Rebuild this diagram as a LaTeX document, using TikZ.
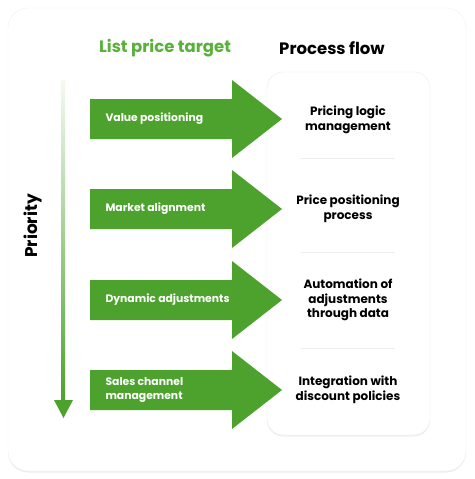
\documentclass[tikz,border=0pt]{standalone}
\usepackage{fontspec}
\setmainfont{Poppins}
\usetikzlibrary{shadows}

\definecolor{leafgreen}{HTML}{4DA22E}
\definecolor{titlegreen}{HTML}{5AB13A}
\definecolor{rulegrey}{HTML}{EEEEEE}

\tikzset{
	card/.style={fill=white, draw=black!5, rounded corners=20pt, drop shadow={opacity=0.15, shadow xshift=0pt, shadow yshift=-1.5pt}},
	flowbox/.style={fill=white, draw=black!8, rounded corners=16pt, drop shadow={opacity=0.12, shadow xshift=0pt, shadow yshift=-1.5pt}},
	lever/.style={fill=leafgreen},
	levertext/.style={anchor=west, align=left, text=white, font=\bfseries\fontsize{10.8}{14.5}\selectfont},
	flowtext/.style={align=center, font=\bfseries\fontsize{12}{14.5}\selectfont},
	heading/.style={font=\bfseries\fontsize{16.5}{18}\selectfont},
	sep/.style={draw=rulegrey, line width=0.8pt}
}

\begin{document}
\begin{tikzpicture}[x=1pt, y=-1pt]
	%%%%% START %%%%%
	\useasboundingbox (0, 0) rectangle (474, 479);
	
	\path[card] (8, 8) rectangle (466, 471);
	
	\node[heading, text=titlegreen] (target) at (165, 48) {List price target};
	\node[heading] (flow) at (332, 48) {Process flow};
	
	\path[flowbox] (267, 72) rectangle (430, 435);
	
	% priority arrow
	\shade[top color=leafgreen!6, bottom color=leafgreen] (61, 80) rectangle (65, 401);
	\fill[leafgreen] (54, 400) -- (73, 400) -- (63.5, 418) -- cycle;
	\node[rotate=90, font=\bfseries\fontsize{17}{19}\selectfont] (priority) at (33, 226) {Priority};
	
	% levers
	\fill[lever] (90, 99) -- (232, 99) -- (232, 80) -- (282, 119) -- (232, 158) -- (232, 139) -- (90, 139) -- cycle;
	\fill[lever] (90, 189) -- (232, 189) -- (232, 170) -- (282, 209) -- (232, 248) -- (232, 229) -- (90, 229) -- cycle;
	\fill[lever] (90, 280) -- (232, 280) -- (232, 261) -- (282, 300) -- (232, 339) -- (232, 320) -- (90, 320) -- cycle;
	\fill[lever] (90, 370) -- (232, 370) -- (232, 351) -- (282, 390) -- (232, 429) -- (232, 410) -- (90, 410) -- cycle;
	
	\node[levertext] (value) at (102, 119) {Value positioning};
	\node[levertext] (market) at (102, 209) {Market alignment};
	\node[levertext] (dynamic) at (102, 300) {Dynamic adjustments};
	\node[levertext] (channel) at (102, 390) {Sales channel\\management};
	
	% process flow
	\node[flowtext] (logic) at (348, 120) {Pricing logic\\management};
	\node[flowtext] (positioning) at (348, 209) {Price positioning\\process};
	\node[flowtext] (automation) at (348, 300) {Automation of\\adjustments\\through data};
	\node[flowtext] (integration) at (348, 390) {Integration with\\discount policies};
	
	\draw[sep] (300, 158) -- (395, 158);
	\draw[sep] (300, 252) -- (395, 252);
	\draw[sep] (300, 348) -- (395, 348);
	
	%%%%% END %%%%%
\end{tikzpicture}
\end{document}
